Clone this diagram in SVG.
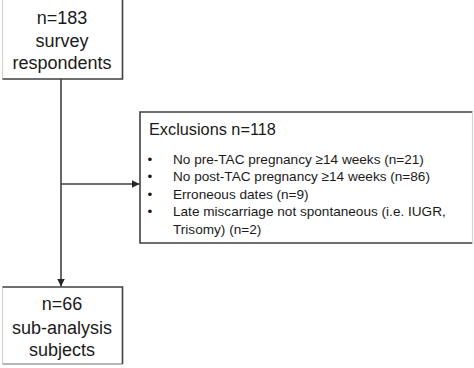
<svg xmlns="http://www.w3.org/2000/svg" width="474" height="368" viewBox="0 0 474 368">
<style>
.bg{fill:#ffffff}
.edge{stroke:#404040;stroke-width:1.6;fill:none}
.faint{stroke:#d4d4d4;stroke-width:1.2;fill:none}
.big{font-family:"Liberation Sans",Arial,sans-serif;font-size:18px;fill:#1a1a1a;text-anchor:middle}
.title{font-family:"Liberation Sans",Arial,sans-serif;font-size:16.3px;fill:#1a1a1a}
.item{font-family:"Liberation Sans",Arial,sans-serif;font-size:13.6px;fill:#1a1a1a}
.conn{stroke:#404040;stroke-width:1.6;fill:none}
</style>
<defs>
<marker id="ah" viewBox="0 0 10 10" refX="10" refY="5" markerWidth="8" markerHeight="8" markerUnits="userSpaceOnUse" orient="auto">
<path d="M0,0 L10,5 L0,10 Z" fill="#262626"/>
</marker>
</defs>
<rect class="bg" x="0" y="0" width="474" height="368"/>
<g id="connectors">
<line class="conn" x1="61" y1="79" x2="61" y2="286.5" marker-end="url(#ah)"/>
<line class="conn" x1="61" y1="184" x2="139.5" y2="184" marker-end="url(#ah)"/>
</g>
<g id="node-respondents">
<line class="faint" x1="2.5" y1="0" x2="2.5" y2="79"/>
<path class="edge" d="M122.5,0 V79 H2.5"/>
<text class="big" x="62" y="24">n=183</text>
<text class="big" x="62" y="46.5">survey</text>
<text class="big" x="62" y="69">respondents</text>
</g>
<g id="node-subjects">
<line class="faint" x1="2.5" y1="287" x2="2.5" y2="364"/>
<path class="edge" d="M2.5,287 H122.5 V364"/>
<line class="edge" x1="2.5" y1="364" x2="122.5" y2="364" style="stroke:#707070;stroke-width:1"/>
<text class="big" x="62" y="310">n=66</text>
<text class="big" x="62" y="333.5">sub-analysis</text>
<text class="big" x="62" y="356">subjects</text>
</g>
<g id="node-exclusions">
<path class="edge" d="M472.5,112 H140 V243 H472.5"/>
<line class="faint" x1="472.5" y1="112" x2="472.5" y2="243"/>
<text class="title" x="149" y="135">Exclusions n=118</text>
<g class="item">
<text x="147.5" y="163.5">•</text>
<text x="173" y="163.5">No pre-TAC pregnancy ≥14 weeks (n=21)</text>
<text x="147.5" y="181">•</text>
<text x="173" y="181">No post-TAC pregnancy ≥14 weeks (n=86)</text>
<text x="147.5" y="198.5">•</text>
<text x="173" y="198.5">Erroneous dates (n=9)</text>
<text x="147.5" y="216">•</text>
<text x="173" y="216">Late miscarriage not spontaneous (i.e. IUGR,</text>
<text x="173" y="233.5">Trisomy) (n=2)</text>
</g>
</g>
</svg>
